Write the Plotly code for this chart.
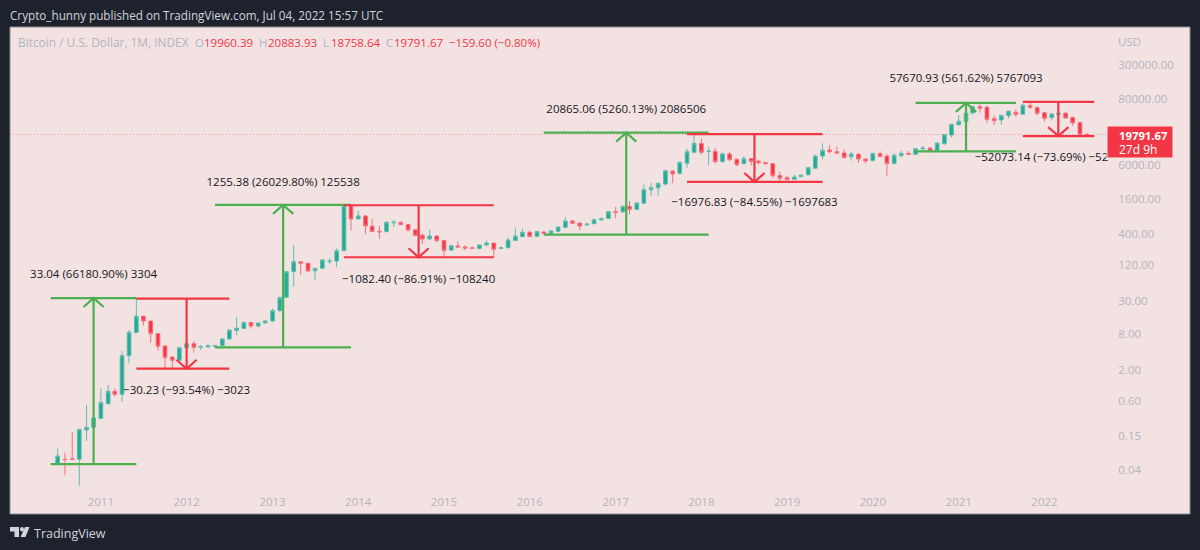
import plotly.graph_objects as go
import pandas as pd

# monthly candles, Jul 2010 to Jul 2022
opens = [
    0.0505, 0.0607, 0.0619, 0.0607, 0.191, 0.212,
    0.30, 0.53, 0.865, 0.77, 3.49, 8.6, 16.2, 13.5, 8.24, 5.1, 3.3, 2.9,
    4.76, 5.55, 4.85, 4.9, 5.0, 5.2, 6.7, 9.3, 10.1, 12.7, 11.1, 12.5,
    13.5, 20.4, 34.1, 93, 137, 129, 96, 106, 139, 141, 211, 1227,
    730, 820, 550, 450, 445, 627, 640, 585, 475, 385, 334, 375,
    315, 216, 254, 244, 236, 230, 263, 284, 230, 236, 314, 366,
    433, 370, 438, 417, 450, 526, 673, 620, 574, 605, 699, 745,
    965, 965, 1190, 1060, 1350, 2290, 2470, 2860, 4730, 4340, 6440, 9880,
    14000, 10300, 10300, 6920, 9240, 7500, 6350, 7730, 7000, 6600, 6340, 3980,
    3700, 3430, 3800, 4100, 5300, 8550, 10800, 10100, 9620, 8300, 9150, 7560,
    7190, 9350, 8530, 6420, 8630, 9450, 9140, 11350, 11650, 10620, 13800, 19450,
    28900, 33100, 46000, 58800, 57700, 36700, 35000, 41500, 47100, 43800, 61300, 56800,
    46300, 38400, 43200, 45500, 38500, 31800, 19960.39,
]
highs = [
    0.093, 0.0787, 0.174, 0.196, 0.507, 0.31,
    0.973, 1.11, 0.97, 4.19, 9.5, 33.0, 16.7, 13.7, 8.3, 5.1, 3.35, 4.95,
    6.87, 6.2, 5.3, 5.4, 5.3, 6.8, 9.6, 15.6, 13.2, 12.9, 12.7, 13.9,
    22, 35, 95, 264, 139, 130, 108, 150, 156, 232, 1260, 1245,
    1005, 850, 730, 554, 660, 702, 665, 600, 490, 417, 474, 385,
    320, 265, 305, 262, 247, 267, 313, 285, 248, 352, 505, 500,
    466, 450, 445, 470, 540, 778, 705, 630, 620, 740, 780, 985,
    1163, 1210, 1470, 1370, 2790, 2980, 3050, 4980, 4980, 6850, 11400, 20079,
    17060, 12300, 11700, 9760, 10000, 7780, 8450, 7900, 7400, 6780, 6540, 4636,
    3850, 4170, 4090, 5600, 9090, 14030, 13150, 12300, 11100, 10140, 9500, 7900,
    9560, 10270, 9170, 9450, 10400, 10400, 11400, 12650, 12060, 14220, 19850, 29500,
    42400, 60500, 61800, 65300, 60000, 41300, 42400, 50500, 52900, 66800, 70664, 59100,
    47900, 45600, 48100, 47400, 40000, 31900, 20883.93,
]
lows = [
    0.05, 0.0324, 0.06, 0.0214, 0.124, 0.21,
    0.29, 0.52, 0.70, 0.578, 2.58, 8.5, 11.3, 5.73, 4.24, 2.1, 2.1, 2.85,
    4.7, 3.93, 4.35, 4.75, 4.95, 5.1, 6.5, 7.7, 9.9, 10, 10.5, 12,
    12.9, 19, 33, 51.8, 81.7, 90.6, 67, 103, 125, 110, 205, 462,
    720, 405, 445, 338, 430, 541, 570, 445, 370, 274, 322, 295,
    167, 210, 233, 215, 228, 220, 253, 165, 225, 235, 310, 355,
    360, 366, 400, 410, 440, 500, 600, 473, 570, 600, 690, 740,
    748, 935, 873, 1060, 1300, 1790, 1810, 2680, 2940, 4100, 5400, 9500,
    9120, 5865, 6400, 6500, 7000, 5780, 6100, 5900, 6100, 6200, 3570, 3178,
    3340, 3400, 3730, 4090, 5300, 7500, 9480, 9300, 7700, 7120, 6600, 6430,
    6860, 8370, 3900, 6160, 8130, 8900, 8940, 10540, 9880, 10400, 13240, 17600,
    28700, 32300, 43000, 46500, 30700, 28800, 29300, 37300, 39600, 43100, 53200, 41900,
    32900, 34500, 37200, 37700, 27700, 18591, 18758.64,
]
closes = [
    0.069, 0.06, 0.06, 0.196, 0.212, 0.305,
    0.556, 0.865, 0.77, 3.49, 8.69, 16.2, 13.5, 8.24, 5.03, 3.23, 2.9, 4.76,
    5.57, 4.83, 4.95, 5.1, 5.15, 6.68, 9.5, 10.2, 12.7, 11.1, 12.5, 13.5,
    20.3, 33.6, 93, 137, 129, 95.5, 106, 147, 141, 211, 1227, 730,
    820, 554, 445, 440, 640, 640, 585, 474, 385, 334, 375, 313,
    214, 257, 244, 234, 230, 264, 285, 223, 236, 321, 375, 433,
    366, 445, 416, 456, 533, 673, 615, 553, 599, 709, 737, 970,
    947, 1195, 1062, 1362, 2292, 2480, 2937, 4820, 4230, 6665, 10110, 14040,
    9860, 10310, 6840, 9350, 7410, 6090, 7710, 6940, 6600, 6340, 3960, 3570,
    3390, 3760, 4060, 5420, 8550, 10680, 10100, 9590, 8020, 9250, 7620, 7050,
    9500, 8340, 6340, 8790, 9450, 9140, 11400, 11650, 10400, 14220, 19720, 29500,
    33200, 45400, 58900, 55200, 35900, 34000, 41900, 49100, 43600, 62100, 57400, 45500,
    37300, 44200, 45500, 37700, 31100, 19900, 19791.67,
]
months = pd.date_range("2010-07-01", periods=len(closes), freq="MS")

# price axis
price_ticks = [300000, 80000, 6000, 1600, 400, 120, 30, 8, 2, 0.6, 0.15, 0.04]
price_text = ["300000.00", "80000.00", "6000.00", "1600.00", "400.00", "120.00",
              "30.00", "8.00", "2.00", "0.60", "0.15", "0.04"]
year_ticks = [f"{y}-01-01" for y in range(2011, 2023)]
year_text = [str(y) for y in range(2011, 2023)]

# price range tool drawings
green_start = ["2010-06-01", "2012-05-01", "2016-03-01", "2020-07-01"]
green_end = ["2011-06-01", "2013-12-01", "2018-02-01", "2021-09-01"]
green_mid = ["2010-12-01", "2013-02-15", "2017-02-15", "2021-02-01"]
green_low = [0.05, 4.82, 396.7, 10268]
green_high = [33.09, 1260.2, 21262, 67939]

red_start = ["2011-06-01", "2013-11-01", "2017-11-01", "2021-10-01"]
red_end = ["2012-07-01", "2015-08-01", "2019-06-01", "2022-08-01"]
red_mid = ["2012-01-01", "2014-09-15", "2018-08-15", "2022-03-01"]
red_high = [32.32, 1245.5, 20079, 70664]
red_low = [2.09, 163.1, 3102, 18591]

label_x = ["2010-12-01", "2012-01-01", "2013-02-15", "2014-09-15",
           "2017-02-15", "2018-08-15", "2021-02-01", "2021-03-10"]
label_y = [81.6, 0.875, 2977, 67.1, 51640, 1361, 173400, 7907]
label_text = [
    "33.04 (66180.90%) 3304",
    "−30.23 (−93.54%) −3023",
    "1255.38 (26029.80%) 125538",
    "−1082.40 (−86.91%) −108240",
    "20865.06 (5260.13%) 2086506",
    "−16976.83 (−84.55%) −1697683",
    "57670.93 (561.62%) 5767093",
    "−52073.14 (−73.69%) −52",
]
label_pos = ["middle center"] * 7 + ["middle right"]

GREEN = "#4caf50"
RED = "#f23645"
UP = "#22ab94"
DOWN = "#f23645"
DARK = "#1e222d"
PANEL = "#f3e2e2"
GREY = "#b2b5be"
FONT = "Open Sans"
W, H = 1200, 550
L, R, T, B = 10, 1110, 27, 487


def px(x):
    return (x - L) / (R - L)


def py(y):
    return (B - y) / (B - T)


def measure(fig, start, end, mid, low, high, color, up):
    # two rails, the stem and the open arrow head
    t = pd.Timestamp(mid)
    dt = pd.Timedelta(days=43)
    tip, back = (high, high / 1.42) if up else (low, low * 1.42)
    xs = [start, end, None, start, end, None, mid, mid, None, t - dt, mid, t + dt]
    ys = [low, low, None, high, high, None, low, high, None, back, tip, back]
    fig.add_trace(go.Scatter(x=xs, y=ys, mode="lines", line=dict(color=color, width=2.2),
                             hoverinfo="skip"))


fig = go.Figure()
fig.add_trace(go.Candlestick(
    x=months, open=opens, high=highs, low=lows, close=closes,
    increasing=dict(line=dict(color="#5fbdae", width=1), fillcolor=UP),
    decreasing=dict(line=dict(color="#f5707c", width=1), fillcolor=DOWN),
    whiskerwidth=0,
))

# last price line
fig.add_trace(go.Scatter(x=["2009-12-10", "2022-10-07"], y=[closes[-1], closes[-1]], mode="lines",
                         line=dict(color="rgba(242,54,69,0.45)", width=1, dash="1px,2px"),
                         hoverinfo="skip"))

for i in range(4):
    measure(fig, green_start[i], green_end[i], green_mid[i], green_low[i], green_high[i], GREEN, True)
for i in range(4):
    measure(fig, red_start[i], red_end[i], red_mid[i], red_low[i], red_high[i], RED, False)

fig.add_trace(go.Scatter(x=label_x, y=label_y, text=label_text, mode="text",
                         textposition=label_pos,
                         textfont=dict(family=FONT, size=11.5, color="#131722"),
                         hoverinfo="skip"))

# panel behind the chart and the price scale
shapes = [
    dict(type="rect", xref="paper", yref="paper", layer="below",
         x0=px(10), x1=px(1190), y0=py(514), y1=py(27), fillcolor=PANEL,
         line=dict(color="#8a8d96", width=1)),
    dict(type="rect", xref="paper", yref="paper", layer="above",
         x0=px(1107), x1=px(1173), y0=py(158), y1=py(126), fillcolor=RED,
         line=dict(color="#f7e9e9", width=1)),
    # logo
    dict(type="path", xref="paper", yref="paper", fillcolor="#d1d4dc", line=dict(width=0),
         path=f"M{px(10)},{py(527)} L{px(19)},{py(527)} L{px(19)},{py(537)} L{px(14.5)},{py(537)} "
              f"L{px(14.5)},{py(531.5)} L{px(10)},{py(531.5)} Z"),
    dict(type="path", xref="paper", yref="paper", fillcolor="#d1d4dc", line=dict(width=0),
         path=f"M{px(25)},{py(527)} L{px(29.5)},{py(527)} L{px(25.5)},{py(537)} L{px(20.5)},{py(537)} Z"),
    dict(type="circle", xref="paper", yref="paper", fillcolor="#d1d4dc", line=dict(width=0),
         x0=px(20), x1=px(24), y0=py(531.5), y1=py(527)),
]


def note(x, y, text, size=11.5, color=GREY, **kw):
    return dict(x=px(x), y=py(y), xref="paper", yref="paper", text=text, showarrow=False,
                xanchor="left", yanchor="middle", xshift=-1, borderpad=0,
                font=dict(family=FONT, size=size, color=color), **kw)


legend_bits = [
    (18, "Bitcoin / U.S. Dollar, 1M, INDEX", GREY, 11.9), (195, "O", GREY, 11.5), (204, "19960.39", RED, 11.5),
    (259, "H", GREY, 11.5), (268, "20883.93", RED, 11.5), (323, "L", GREY, 11.5), (331, "18758.64", RED, 11.5),
    (386, "C", GREY, 11.5), (394, "19791.67", RED, 11.5), (449, "−159.60 (−0.80%)", RED, 11.5),
]
annotations = [
    note(10, 15, "Crypto_hunny published on TradingView.com, Jul 04, 2022 15:57 UTC", size=11.7, color="#d1d4dc"),
    note(1118, 41, "USD"),
    note(1119, 135, "<b>19791.67</b>", size=11.3, color="#ffffff"),
    note(1119, 149, "27d 9h", size=12, color="#ffffff"),
    note(34, 533, "TradingView", size=12.5, color="#d1d4dc"),
]
annotations += [note(x, 42, t, size=s, color=c) for x, t, c, s in legend_bits]

fig.update_layout(
    width=W, height=H,
    margin=dict(l=L, r=W - R, t=T, b=H - B),
    paper_bgcolor=DARK, plot_bgcolor="rgba(0,0,0,0)",
    showlegend=False, shapes=shapes, annotations=annotations,
    font=dict(family=FONT, size=11.5, color=GREY),
    xaxis=dict(type="date", range=["2009-12-10", "2022-10-07"], rangeslider=dict(visible=False),
               tickmode="array", tickvals=year_ticks, ticktext=year_text,
               showgrid=False, zeroline=False, showline=False,
               ticks="outside", ticklen=4, tickcolor="rgba(0,0,0,0)"),
    yaxis=dict(type="log", range=[-1.688, 6.122], side="right",
               tickmode="array", tickvals=price_ticks, ticktext=price_text,
               showgrid=False, zeroline=False, showline=False,
               ticks="outside", ticklen=5, tickcolor="rgba(0,0,0,0)"),
    boxgap=0.2,
)

fig.write_html("out.html", config=dict(displayModeBar=False),
               post_script="document.body.style.margin='0';")
